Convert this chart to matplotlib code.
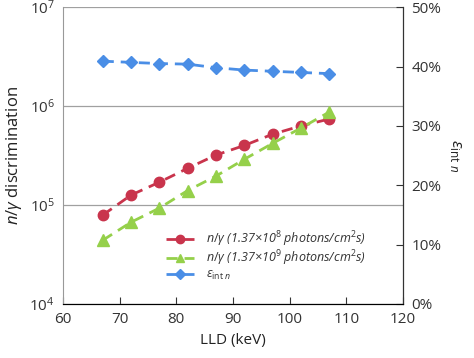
import matplotlib.pyplot as plt
from matplotlib.ticker import FixedLocator, FuncFormatter

plt.rcParams['font.family'] = ['Open Sans', 'DejaVu Sans']
plt.rcParams['mathtext.fontset'] = 'custom'
plt.rcParams['mathtext.rm'] = 'Open Sans'
plt.rcParams['mathtext.it'] = 'Open Sans:italic'

lld = [67, 72, 77, 82, 87, 92, 97, 102, 107]
disc_low = [7.9e4, 1.26e5, 1.7e5, 2.35e5, 3.2e5, 4.0e5, 5.2e5, 6.3e5, 7.4e5]
disc_high = [4.4e4, 6.7e4, 9.3e4, 1.4e5, 1.96e5, 2.9e5, 4.2e5, 6.0e5, 8.7e5]
eff = [40.9, 40.7, 40.5, 40.4, 39.8, 39.4, 39.2, 39.0, 38.8]

red = '#c9344c'
green = '#95d04a'
blue = '#4a8ee6'

fig = plt.figure(figsize=(4.74, 3.58), dpi=100)
ax = fig.add_axes([0.133, 0.151, 0.717, 0.829])
ax2 = ax.twinx()

l1, = ax.plot(lld, disc_low, color=red, ls=(0, (4, 2.5)), lw=2, marker='o', ms=7.5,
              label=r'$n/\gamma$ (1.37×10$^8$ photons/cm$^2$s)')
l2, = ax.plot(lld, disc_high, color=green, ls=(0, (4, 2.5)), lw=2, marker='^', ms=8,
              label=r'$n/\gamma$ (1.37×10$^9$ photons/cm$^2$s)')
l3, = ax2.plot(lld, eff, color=blue, ls=(0, (4, 2.5)), lw=2, marker='D', ms=6,
               label=r'$\varepsilon_{\mathrm{int}\ n}$')

ax.set_yscale('log')
ax.set_ylim(1e4, 1e7)
ax.set_xlim(60, 120)
ax.set_xticks(range(60, 121, 10))
ax.yaxis.set_major_locator(FixedLocator([1e4, 1e5, 1e6, 1e7]))
ax.yaxis.set_minor_locator(FixedLocator([]))
ax.grid(axis='y', color='#a0a0a0', lw=0.9)
ax.set_axisbelow(True)

ax2.set_ylim(0, 50)
ax2.set_yticks(range(0, 51, 10))
ax2.yaxis.set_major_formatter(FuncFormatter(lambda v, p: f'{v:.0f}%'))

for a in (ax, ax2):
    a.spines['top'].set_visible(False)
ax.spines['left'].set_color('#999999')
ax2.spines['left'].set_visible(False)
ax.spines['bottom'].set_color('#333333')
ax2.spines['right'].set_color('#333333')

ax.tick_params(axis='x', direction='in', length=5, labelsize=11, colors='#333333', pad=6)
ax.tick_params(axis='y', length=0, labelsize=11, colors='#333333', pad=6)
ax2.tick_params(axis='y', direction='in', length=5, labelsize=11, colors='#333333', pad=6)

ax.set_xlabel('LLD (keV)', fontsize=11, color='#222222')
ax.set_ylabel(r'$n/\gamma$ discrimination', fontsize=12, color='#222222')
ax2.set_ylabel(r'$\varepsilon_{\mathrm{int}\ n}$', fontsize=12, rotation=-90,
               labelpad=16, color='#222222')

leg = ax.legend(handles=[l1, l2, l3], loc='lower left', bbox_to_anchor=(0.27, 0.035),
                frameon=False, fontsize=9, handlelength=2.2, handletextpad=1.0,
                labelspacing=0.0, markerscale=0.8)
for t in leg.get_texts():
    t.set_color('#333333')
    t.set_style('italic')

fig.savefig('out.png', dpi=100)
